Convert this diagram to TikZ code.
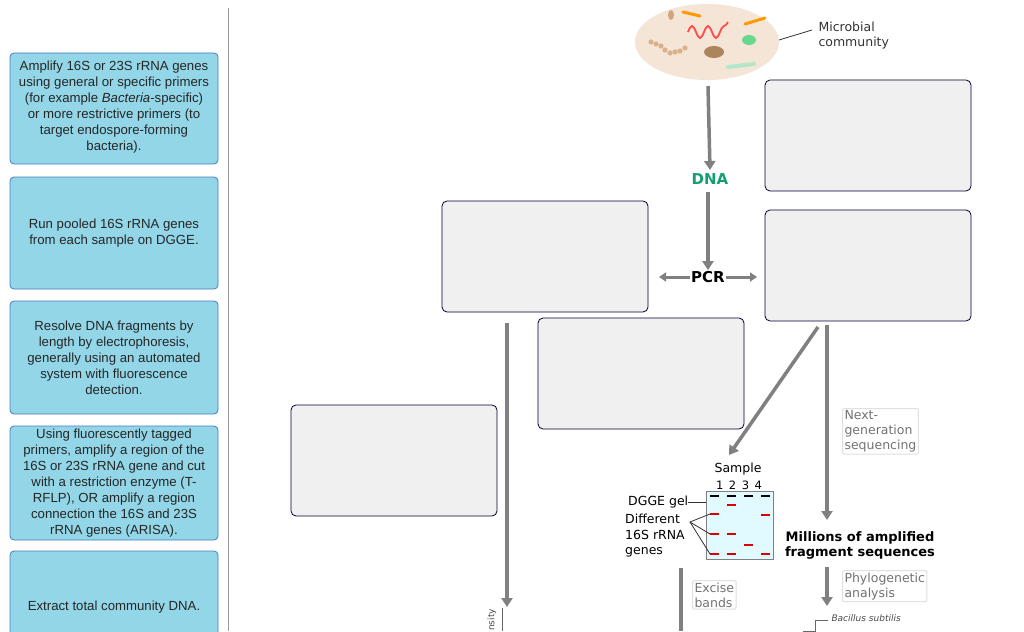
\documentclass[tikz,border=0pt]{standalone}
\usepackage{fontspec}
\setmainfont{Liberation Sans}
\newfontfamily\vs{DejaVu Sans}
\definecolor{lb}{RGB}{146,214,232}
\definecolor{lbd}{RGB}{70,125,195}
\definecolor{dgreen}{RGB}{20,160,110}
\begin{document}
\begin{tikzpicture}[x=1pt,y=-1pt,
 blue/.style={draw=lbd, fill=lb, rounded corners=4pt, line width=0.8pt},
 gbox/.style={draw=black!80!blue, fill=black!6, rounded corners=5pt, line width=0.8pt},
 ltxt/.style={font=\fontsize{13.2}{16}\selectfont, text=black!85, align=center},
 garr/.style={draw=black!50, line width=3.5pt, -{Triangle[length=9pt,width=11pt]}},
 lbox/.style={draw=black!12, line width=1pt, rounded corners=2pt, text=black!55, align=left, inner sep=2pt, font=\vs\fontsize{12.5}{15}\selectfont},
 band/.style={line width=2pt, draw=red!85!black}]
\usetikzlibrary{arrows.meta}
\useasboundingbox (0,0) rectangle (1024,631);
\fill[white] (0,0) rectangle (1024,631);
\draw[black!40, line width=0.8pt] (228,8) -- (228,631);
% left boxes
\draw[blue] (10,53) rectangle (218,164); \node[ltxt] (t1) at (114,107) {Amplify 16S or 23S rRNA genes\\using general or specific primers\\(for example \emph{Bacteria}-specific)\\or more restrictive primers (to\\target endospore-forming\\bacteria).};
\draw[blue] (10,177) rectangle (218,289); \node[ltxt] (t2) at (114,233) {Run pooled 16S rRNA genes\\from each sample on DGGE.};
\draw[blue] (10,301) rectangle (218,414); \node[ltxt] (t3) at (114,358) {Resolve DNA fragments by\\length by electrophoresis,\\generally using an automated\\system with fluorescence\\detection.};
\draw[blue] (10,426) rectangle (218,540); \node[ltxt] (t4) at (114,483) {Using fluorescently tagged\\primers, amplify a region of the\\16S or 23S rRNA gene and cut\\with a restriction enzyme (T-\\RFLP), OR amplify a region\\connection the 16S and 23S\\rRNA genes (ARISA).};
\draw[blue] (10,551) rectangle (218,640); \node[ltxt] (t5) at (114,607) {Extract total community DNA.};
% gray boxes
\draw[gbox] (765,80) rectangle (971,191);
\draw[gbox] (765,210) rectangle (971,321);
\draw[gbox] (442,201) rectangle (648,312);
\draw[gbox] (538,318) rectangle (744,429);
\draw[gbox] (291,405) rectangle (497,516);
% community
\fill[orange!20!brown!20] (707,42) ellipse (72 and 38);
\draw[orange!80!yellow, line width=3pt, line cap=round] (683,12) -- (700,16) (745,24) -- (765,18);
\draw[red!70, line width=1.8pt] (688,32) sin (692,26) cos (696,32) sin (700,38) cos (704,32) sin (708,26) cos (712,32) sin (716,38) cos (720,32) sin (724,26) cos (728,22);
\fill[brown!70!white] (671,15) ellipse (3 and 5);
\foreach \p in {(651,42),(656,44),(661,46),(665,50),(670,53),(675,52),(680,51),(685,48)} \fill[brown!60!white] \p circle (2.6);
\fill[brown!80!black!80] (714,52) ellipse (10 and 6);
\fill[green!50!teal!60] (749,40) ellipse (7 and 5);
\draw[green!40!teal!30, line width=4pt, line cap=round] (728,67) -- (754,64);
\node[font=\vs\fontsize{12.5}{15}\selectfont, align=left, anchor=west, text=black!80] (mc) at (815,36) {Microbial\\community};
\draw[black!80, line width=0.8pt] (779,40) -- (812,30);
% DNA / PCR
\node[font=\vs\bfseries\fontsize{15}{16}\selectfont, text=dgreen] (dna) at (710,179) {DNA};
\node[font=\vs\bfseries\fontsize{15}{16}\selectfont, inner sep=1pt] (pcr) at (708,277) {PCR};
\coordinate (c0) at (708,86);
\draw[garr] (c0) -- (dna.north);
\draw[garr] (708,192) -- (pcr.north);
\coordinate (pl) at (659,277); \coordinate (pr) at (757,277);
\draw[garr,line width=3pt,-{Triangle[length=7pt,width=9pt]}] (pcr.west) -- (pl);
\draw[garr,line width=3pt,-{Triangle[length=7pt,width=9pt]}] (pcr.east) -- (pr);
% left long arrow
\coordinate (l0) at (507,323); \coordinate (l1) at (507,607);
\draw[garr] (l0) -- (l1);
\node[font=\vs\fontsize{9}{10}\selectfont, rotate=90, text=black!70] (ns) at (492,620) {nsity};
\draw[black!60, line width=1pt] (502,608) -- (502,631);
% diagonal and right arrows
\coordinate (d0) at (818,327); \coordinate (d1) at (729,455);
\draw[garr] (d0) -- (d1);
\coordinate (r0) at (827,325); \coordinate (r1) at (827,520);
\draw[garr] (r0) -- (r1);
\node[lbox, anchor=north west] (ngs) at (842,408) {Next-\\generation\\sequencing};
% gel
\node[font=\vs\fontsize{12.5}{14}\selectfont] (smp) at (738,469) {Sample};
\node[font=\vs\fontsize{11.5}{13}\selectfont] (nums) at (739,485) {1\, 2\, 3\, 4};
\draw[black!50, fill=blue!15!cyan!12, line width=1pt] (706,491) rectangle (773,559);
\foreach \x in {710,727,744,761} \draw[line width=2pt] (\x,496) -- (\x+9,496);
\draw[band] (727,505) -- (736,505) (710,514) -- (719,514) (761,515) -- (770,515)
 (710,534) -- (719,534) (727,534) -- (736,534) (744,545) -- (753,545)
 (710,554) -- (719,554) (727,554) -- (736,554) (761,554) -- (770,554);
\node[font=\vs\fontsize{12.5}{14}\selectfont, anchor=west, inner sep=0] (dg) at (628,502) {DGGE gel};
\draw[black!80] (dg.east) -- (706,502);
\node[font=\vs\fontsize{12.5}{15.5}\selectfont, anchor=north west, align=left, inner sep=0] (diff) at (625,514) {Different\\16S rRNA\\genes};
\coordinate (dj) at (690,522);
\draw[black!80, line width=0.8pt] (710,514) -- (dj) -- (710,534) (dj) -- (710,554);
\node[font=\vs\bfseries\fontsize{13}{15}\selectfont, align=center] (mil) at (860,545) {Millions of amplified\\fragment sequences};
\coordinate (m0) at (827,567); \coordinate (m1) at (827,606);
\draw[garr] (m0) -- (m1);
\node[lbox, anchor=north west] (phy) at (842,570) {Phylogenetic\\analysis};
\node[lbox, anchor=north west] (exc) at (692,580) {Excise\\bands};
\coordinate (e0) at (681,568); \coordinate (e1) at (681,631);
\draw[draw=black!50, line width=3.5pt] (e0) -- (e1);
\node[font=\vs\itshape\fontsize{9}{10}\selectfont, anchor=west, text=black!70] (bs) at (828,618) {Bacillus subtilis};
\draw[black!60, line width=1pt] (803,631) -- (815,631) -- (815,620) -- (828,620);
\end{tikzpicture}
\end{document}
